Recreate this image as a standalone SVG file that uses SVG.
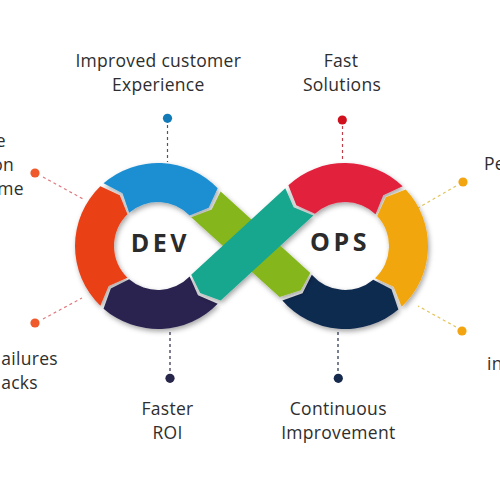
<svg xmlns="http://www.w3.org/2000/svg" width="500" height="500" viewBox="0 0 500 500">
<defs>
<filter id="sh" x="-20%" y="-20%" width="140%" height="140%">
<feDropShadow dx="1.5" dy="2.5" stdDeviation="2.5" flood-color="#000" flood-opacity="0.35"/>
</filter>
<style>
.lbl{font-family:"Open Sans","Liberation Sans",sans-serif;font-size:17.5px;fill:#2e2e2e;letter-spacing:0.3px}
.big{font-family:"Open Sans","Liberation Sans",sans-serif;font-size:25px;font-weight:bold;fill:#2b2b2b;letter-spacing:3.5px}
.dash{stroke-width:1.2;stroke-dasharray:3 3;fill:none}
</style>
</defs>
<rect width="500" height="500" fill="#ffffff"/>

<g id="connectors">
<line class="dash" x1="167.5" y1="125" x2="167.5" y2="162" stroke="#4a5a6a"/>
<line class="dash" x1="342.5" y1="126" x2="342.5" y2="162" stroke="#c0404a"/>
<line class="dash" x1="170" y1="332" x2="170" y2="372" stroke="#2c2a4a"/>
<line class="dash" x1="338" y1="332" x2="338" y2="372" stroke="#1e2f4c"/>
<line class="dash" x1="43" y1="177" x2="85" y2="200" stroke="#e07a80"/>
<line class="dash" x1="43" y1="319" x2="82" y2="298" stroke="#e07a80"/>
<line class="dash" x1="456" y1="186" x2="418" y2="208" stroke="#e2c45a"/>
<line class="dash" x1="456" y1="327" x2="418" y2="306" stroke="#e2c45a"/>
</g>

<g id="dots">
<circle cx="167.5" cy="118.3" r="4.6" fill="#137ab8"/>
<circle cx="342.3" cy="120" r="4.6" fill="#d0101c"/>
<circle cx="170" cy="378.3" r="4.6" fill="#28264a"/>
<circle cx="338.3" cy="378.3" r="4.6" fill="#152a4c"/>
<circle cx="35" cy="173" r="4.6" fill="#ef5a2c"/>
<circle cx="35" cy="323" r="4.6" fill="#ef5a2c"/>
<circle cx="463" cy="182" r="4.6" fill="#f2a510"/>
<circle cx="462" cy="331" r="4.6" fill="#f2a510"/>
</g>

<g id="dev-ring" filter="url(#sh)">
<path id="dev-navy" fill="#29224f" d="M 217.70 303.66 A 83 83 0 0 1 103.54 308.64 L 110.81 288.49 L 129.13 279.21 A 44 44 0 0 0 189.65 276.57 L 197.96 295.35 Z"/>
<path id="dev-red" fill="#ea3f17" d="M 100.34 305.70 A 83 83 0 0 1 100.34 186.30 L 119.79 195.29 L 127.43 214.35 A 44 44 0 0 0 127.43 277.65 L 108.65 285.96 Z"/>
<path id="dev-blue" fill="#1f8fd2" d="M 103.54 183.36 A 83 83 0 0 1 217.70 188.34 L 208.71 207.79 L 189.65 215.43 A 44 44 0 0 0 129.13 212.79 L 122.49 193.36 Z"/>
</g>

<g id="ops-ring" filter="url(#sh)">
<path id="ops-navy" fill="#10294f" d="M 282.36 300.46 A 83 83 0 0 0 398.35 309.58 L 391.44 289.31 L 373.28 279.70 A 44 44 0 0 1 311.79 274.87 L 302.51 293.19 Z"/>
<path id="ops-yellow" fill="#f2a60c" d="M 401.61 306.71 A 83 83 0 0 0 405.71 189.39 L 385.82 197.36 L 377.18 215.99 A 44 44 0 0 1 375.01 278.18 L 393.64 286.82 Z"/>
<path id="ops-red" fill="#e2203d" d="M 402.66 186.30 A 83 83 0 0 0 288.39 185.29 L 296.36 205.18 L 314.99 213.82 A 44 44 0 0 1 375.57 214.35 L 383.21 195.29 Z"/>
</g>

<g id="cross" filter="url(#sh)">
<path id="green-band" fill="#85b61c" d="M 220.64 191.54 L 310.33 273.09 L 300.75 290.34 L 279.60 297.10 L 191.21 217.13 L 211.71 209.58 Z"/>
<path id="teal-band" fill="#15a78e" d="M 191.21 274.87 L 285.30 188.34 L 293.58 207.17 L 313.35 215.43 L 220.64 300.46 L 200.18 292.95 Z"/>
</g>

<g id="dev-label"><text class="big" x="160.5" y="252" text-anchor="middle">DEV</text></g>
<g id="ops-label"><text class="big" x="340" y="251" text-anchor="middle">OPS</text></g>

<g id="n-top-left">
<text class="lbl" x="158.3" y="66.5" text-anchor="middle">Improved customer</text>
<text class="lbl" x="158.3" y="90.5" text-anchor="middle">Experience</text>
</g>
<g id="n-top-right">
<text class="lbl" x="341" y="66.5" text-anchor="middle">Fast</text>
<text class="lbl" x="342" y="90.5" text-anchor="middle">Solutions</text>
</g>
<g id="n-bottom-left">
<text class="lbl" x="167.5" y="414.5" text-anchor="middle">Faster</text>
<text class="lbl" x="167.5" y="438.5" text-anchor="middle">ROI</text>
</g>
<g id="n-bottom-right">
<text class="lbl" x="338.3" y="414.5" text-anchor="middle">Continuous</text>
<text class="lbl" x="338.3" y="438.5" text-anchor="middle">Improvement</text>
</g>
<g id="n-left-upper">
<text class="lbl" x="6" y="147" text-anchor="end">e</text>
<text class="lbl" x="14" y="171" text-anchor="end">on</text>
<text class="lbl" x="24" y="195" text-anchor="end">me</text>
</g>
<g id="n-left-lower">
<text class="lbl" x="58" y="364.5" text-anchor="end">ailures</text>
<text class="lbl" x="38" y="388.5" text-anchor="end">acks</text>
</g>
<g id="n-right-upper">
<text class="lbl" x="484" y="170">Pe</text>
</g>
<g id="n-right-lower">
<text class="lbl" x="487" y="370">in</text>
</g>
</svg>
